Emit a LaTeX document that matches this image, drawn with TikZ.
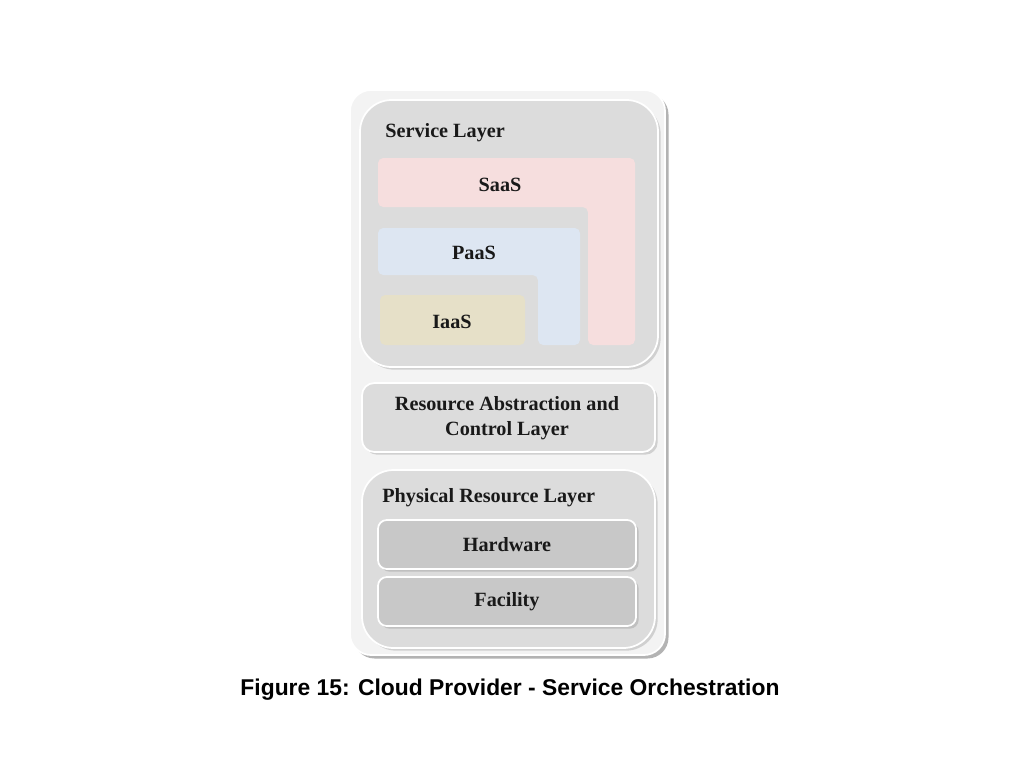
\documentclass[tikz,border=0pt]{standalone}
\usepackage{fontspec}
\setmainfont{Liberation Serif}
\newfontfamily\capfont{Liberation Sans}
\usetikzlibrary{shadows}

\definecolor{panelcol}{HTML}{F3F3F3}
\definecolor{layercol}{HTML}{DCDCDC}
\definecolor{boxcol}{HTML}{C8C8C8}
\definecolor{saascol}{HTML}{F6DEDE}
\definecolor{paascol}{HTML}{DDE6F2}
\definecolor{iaascol}{HTML}{E6E0C8}

\tikzset{
  panel/.style={fill=panelcol, draw=white, line width=1pt, rounded corners=12pt,
    drop shadow={shadow xshift=2pt, shadow yshift=-2pt, opacity=0.6}},
  layer/.style={fill=layercol, draw=white, line width=1pt,
    drop shadow={shadow xshift=1.5pt, shadow yshift=-1.5pt, opacity=0.3}},
  lbl/.style={font=\bfseries\fontsize{11.5}{14}\selectfont, inner sep=0pt, text=black!90},
}

\begin{document}
\begin{tikzpicture}[x=0.02cm,y=-0.02cm]
        \useasboundingbox (0,0) rectangle (1024,768);
        % outer panel
        \draw[panel] (350,90) rectangle (665,655);
        % service layer
        \draw[layer, rounded corners=18pt] (360,100) rectangle (658,367);
        \node[lbl, anchor=west] (service) at (385,133) {Service Layer};
        \fill[saascol, rounded corners=3pt] (378,158) -| (635,345) -| (588,207) -- (378,207) -- cycle;
        \fill[paascol, rounded corners=3pt] (378,228) -| (580,345) -| (538,275) -- (378,275) -- cycle;
        \fill[iaascol, rounded corners=3pt] (380,295) rectangle (525,345);
        \node[lbl] (saas) at (500,185) {SaaS};
        \node[lbl] (paas) at (474,253) {PaaS};
        \node[lbl] (iaas) at (452,322) {IaaS};
        % resource abstraction
        \draw[layer, rounded corners=7pt] (362,383) rectangle (655,452);
        \node[lbl, align=center] (abstr) at (507,418) {Resource Abstraction and\\Control Layer};
        % physical resources
        \draw[layer, rounded corners=18pt] (362,470) rectangle (655,648);
        \node[lbl, anchor=west] (phys) at (382,498) {Physical Resource Layer};
        \foreach \y/\name/\txt in {520/hw/Hardware, 577/fac/Facility}
        {
            \draw[layer, fill=boxcol, rounded corners=5pt] (378,\y) rectangle (636,\y+49);
            \node[lbl] (\name) at (507,\y+24.5) {\txt};
        }
        % caption
        \node[font=\capfont\bfseries\fontsize{13}{15}\selectfont, inner sep=0pt] (caption) at (510,690)
            {Figure 15: Cloud Provider - Service Orchestration};
\end{tikzpicture}
\end{document}
